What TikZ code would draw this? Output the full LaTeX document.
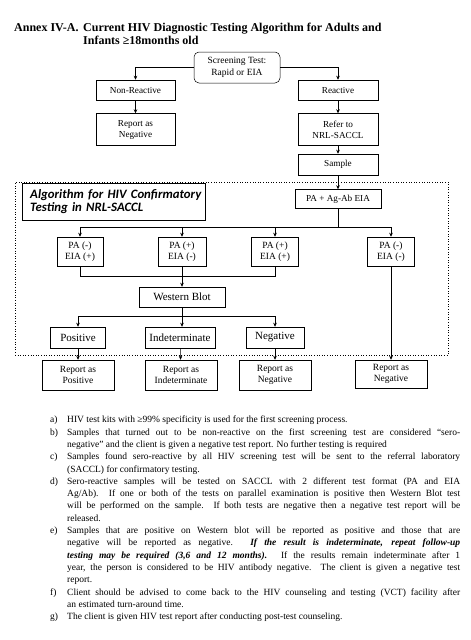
\documentclass[tikz,border=0pt]{standalone}
\usepackage{fontspec}
\setmainfont{Liberation Serif}
\newfontfamily\algfont{Carlito}
\usetikzlibrary{arrows.meta, positioning}

\newcommand{\noteitem}[2]{\noindent\hangindent=17pt\hangafter=1\makebox[17pt][l]{#1}#2\par}

\begin{document}
\begin{tikzpicture}[
  x=1pt, y=-1pt,
  box/.style={draw, line width=0.5pt, align=center, inner sep=1pt,
              font=\fontsize{9.2}{11}\selectfont},
  bigbox/.style={box, minimum height=21pt, font=\fontsize{11}{13}\selectfont},
  pabox/.style={box, minimum height=29pt, font=\fontsize{9.5}{11.5}\selectfont},
  repbox/.style={box, minimum width=72pt, minimum height=30pt,
                 font=\fontsize{9.5}{11.5}\selectfont},
  titlefont/.style={anchor=base west, inner sep=0pt,
                    font=\bfseries\fontsize{12}{14}\selectfont},
  arr/.style={-{Stealth[length=4pt, width=3.6pt]}, line width=0.5pt},
  line/.style={line width=0.5pt}
]
\useasboundingbox (0,0) rectangle (471,640);

% title
\node[titlefont] (annex) at (14,31) {Annex IV-A.};
\node[titlefont] (title) at (83,31) {Current HIV Diagnostic Testing Algorithm for Adults and};
\node[titlefont] (title2) at (83,44) {Infants ≥18months old};

% screening part
\node[box, rounded corners=5pt, minimum width=86pt, minimum height=31pt,
      font=\fontsize{9.5}{11.5}\selectfont] (screen) at (237,67.5) {Screening Test:\\ Rapid or EIA};
\node[box, minimum width=79pt, minimum height=20pt] (nonreact) at (135.5,90) {Non-Reactive};
\node[box, minimum width=80pt, minimum height=20pt] (react) at (338,90) {Reactive};
\node[box, below=13pt of nonreact, minimum width=79pt, minimum height=32pt] (repneg) {Report as\\ Negative};
\node[box, below=13pt of react, minimum width=80pt, minimum height=32pt] (refer) {Refer to\\ NRL-SACCL};
\node[box, below=8pt of refer, minimum width=80pt, minimum height=21pt] (sample) {Sample};

% confirmatory part
\node[draw, dotted, line width=0.6pt, inner sep=0pt, minimum width=433pt,
      minimum height=173pt] (frame) at (231.5,268.5) {};
\node[draw, line width=0.5pt, anchor=north west, inner xsep=4pt, text width=175pt,
      minimum height=37pt, align=left,
      font=\algfont\bfseries\itshape\fontsize{12.8}{13.5}\selectfont] (alg) at (22,183)
      {\hspace*{4pt}\mbox{Algorithm for HIV Confirmatory}\\ \hspace*{4pt}\mbox{Testing in NRL-SACCL}};
\node[box, below=14pt of sample, minimum width=86pt, minimum height=19pt] (paeia) {PA + Ag-Ab EIA};

\node[pabox, minimum width=46pt] (pa1) at (80,251.5) {PA (-)\\ EIA (+)};
\node[pabox, minimum width=48pt] (pa2) at (182,251.5) {PA (+)\\ EIA (-)};
\node[pabox, minimum width=47pt] (pa3) at (275,251.5) {PA (+)\\ EIA (+)};
\node[pabox, minimum width=47pt] (pa4) at (391,251.5) {PA (-)\\ EIA (-)};

\node[bigbox, minimum width=86pt, minimum height=20pt] (wb) at (182,297) {Western Blot};
\node[bigbox, minimum width=55pt] (pos) at (78,337.5) {Positive};
\node[bigbox, minimum width=70pt] (ind) at (180,337.5) {Indeterminate};
\node[bigbox, minimum width=58pt] (neg) at (275,337.5) {Negative};

\node[repbox] (rpos) at (78,375) {Report as\\ Positive};
\node[repbox] (rind) at (181,375) {Report as\\ Indeterminate};
\node[repbox] (rneg) at (275,375) {Report as\\ Negative};
\node[repbox, minimum height=28pt] (rneg2) at (391,374) {Report as\\ Negative};

\coordinate (bus) at (0,227);
\coordinate (join) at (0,276);
\coordinate (split) at (0,316);

\draw[arr] (screen.west) -| (nonreact.north);
\draw[arr] (screen.east) -| (react.north);
\draw[arr] (nonreact) -- (repneg);
\draw[arr] (react) -- (refer);
\draw[arr] (refer) -- (sample);
\draw[arr] (sample) -- (paeia);
\draw[line] (paeia.south) -- (paeia.south |- bus);
\draw[arr] (paeia.south |- bus) -| (pa1.north);
\draw[arr] (paeia.south |- bus) -| (pa2.north);
\draw[arr] (paeia.south |- bus) -| (pa3.north);
\draw[arr] (paeia.south |- bus) -| (pa4.north);
\draw[line] (pa1.south) |- (pa3.south |- join) -- (pa3.south);
\draw[arr] (pa2.south) -- (wb.north);
\draw[line] (wb.south) -- (wb.south |- split);
\draw[arr] (wb.south |- split) -| (pos.north);
\draw[arr] (wb.south |- split) -| (neg.north);
\draw[arr] (wb.south |- split) -- (wb.south |- ind.north);
\draw[arr] (pos) -- (rpos);
\draw[arr] (ind) -- (rind);
\draw[arr] (neg) -- (rneg);
\draw[arr] (pa4) -- (rneg2);

% notes
\node[anchor=north west, inner sep=0pt, text width=410pt, align=justify,
      font=\fontsize{9.5}{12.3}\selectfont] (notes) at (50,416) {%
\noteitem{a)}{HIV test kits with ≥99\% specificity is used for the first screening process.}
\noteitem{b)}{Samples that turned out to be non-reactive on the first screening test are considered “sero-\linebreak negative” and the client is given a negative test report. No further testing is required}
\noteitem{c)}{Samples found sero-reactive by all HIV screening test will be sent to the referral laboratory\linebreak (SACCL) for confirmatory testing.}
\noteitem{d)}{Sero-reactive samples will be tested on SACCL with 2 different test format (PA and EIA\linebreak Ag/Ab). If one or both of the tests on parallel examination is positive then Western Blot test\linebreak will be performed on the sample. If both tests are negative then a negative test report will be\linebreak released.}
\noteitem{e)}{Samples that are positive on Western blot will be reported as positive and those that are\linebreak negative will be reported as negative. \textbf{\textit{If the result is indeterminate, repeat follow-up\linebreak testing may be required (3,6 and 12 months).}} If the results remain indeterminate after 1\linebreak year, the person is considered to be HIV antibody negative. The client is given a negative test\linebreak report.}
\noteitem{f)}{Client should be advised to come back to the HIV counseling and testing (VCT) facility after\linebreak an estimated turn-around time.}
\noteitem{g)}{The client is given HIV test report after conducting post-test counseling.}};
\end{tikzpicture}
\end{document}
